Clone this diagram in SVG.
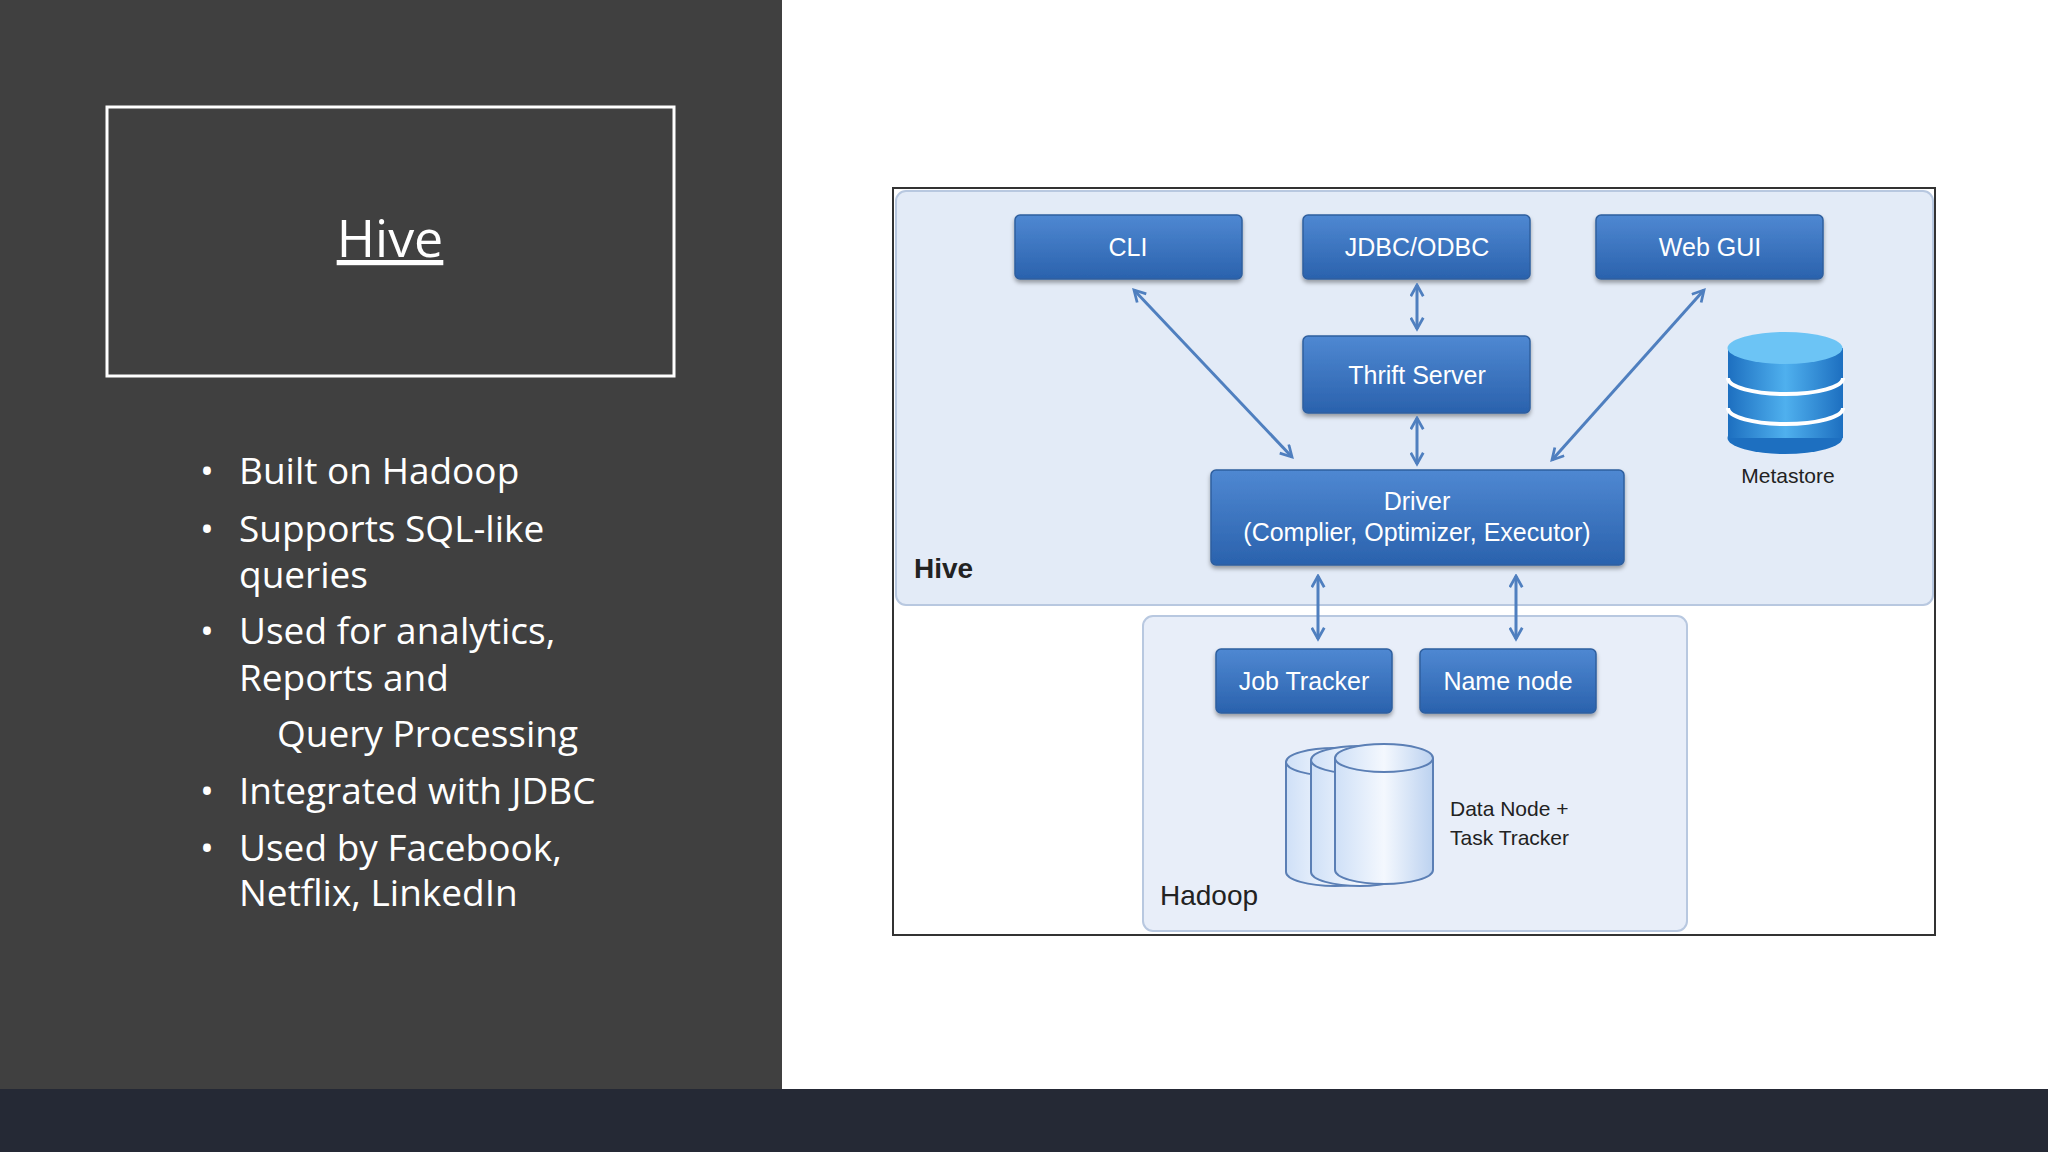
<svg xmlns="http://www.w3.org/2000/svg" width="2048" height="1152" viewBox="0 0 2048 1152">
<defs>
<style>
.box{fill:url(#bg);stroke:#2f5f9e;stroke-width:1.5}
.bt{fill:#fff;font-family:"Liberation Sans",sans-serif;font-size:25px;text-anchor:middle}
.bul{fill:#fff;font-family:"Open Sans",sans-serif;font-size:37px}
.arr{stroke:#4f7fbf;stroke-width:3;fill:none;marker-start:url(#ah);marker-end:url(#ah)}
.lbl{fill:#222;font-family:"Liberation Sans",sans-serif}
.cyl{fill:url(#cg);stroke:#5b7fb5;stroke-width:2}
</style>
<linearGradient id="bg" x1="0" y1="0" x2="0" y2="1"><stop offset="0" stop-color="#4f88d2"/><stop offset="1" stop-color="#2a62ad"/></linearGradient>
<linearGradient id="cg" x1="0" y1="0" x2="1" y2="0"><stop offset="0" stop-color="#cfe0f7"/><stop offset="0.5" stop-color="#f4f8fe"/><stop offset="1" stop-color="#bcd2f0"/></linearGradient>
<linearGradient id="mg" x1="0" y1="0" x2="1" y2="0"><stop offset="0" stop-color="#1d6fc0"/><stop offset="0.5" stop-color="#4fb0ee"/><stop offset="1" stop-color="#1d6fc0"/></linearGradient>
<marker id="ah" viewBox="0 0 12 12" refX="10" refY="6" markerWidth="5" markerHeight="5" orient="auto-start-reverse"><path d="M1,1 L10,6 L1,11" fill="none" stroke="#4f7fbf" stroke-width="2.2"/></marker>
<filter id="sh" x="-10%" y="-10%" width="120%" height="140%"><feDropShadow dx="0" dy="3" stdDeviation="2" flood-opacity="0.35"/></filter>
</defs>
<rect width="2048" height="1152" fill="#fff"/>
<rect width="782" height="1089" fill="#404040"/>
<rect y="1089" width="2048" height="63" fill="#252935"/>
<g id="title">
<rect x="107" y="107" width="567" height="269" fill="none" stroke="#fff" stroke-width="3"/>
<text x="390" y="257" fill="#fff" font-family="Open Sans,sans-serif" font-size="52" text-anchor="middle" text-decoration="underline">Hive</text>
</g>
<g id="bullets" class="bul">
<text x="200" y="484">•</text><text x="239" y="484">Built on Hadoop</text>
<text x="200" y="542">•</text><text x="239" y="542">Supports SQL-like</text>
<text x="239" y="588">queries</text>
<text x="200" y="644">•</text><text x="239" y="644">Used for analytics,</text>
<text x="239" y="691">Reports and</text>
<text x="277" y="747">Query Processing</text>
<text x="200" y="804">•</text><text x="239" y="804">Integrated with JDBC</text>
<text x="200" y="861">•</text><text x="239" y="861">Used by Facebook,</text>
<text x="239" y="906">Netflix, LinkedIn</text>
</g>
<g id="frame">
<rect x="893" y="188" width="1042" height="747" fill="#fff" stroke="#333" stroke-width="2"/>
<rect x="896" y="191" width="1037" height="414" rx="10" fill="#e3ebf7" stroke="#b8c8e0" stroke-width="2"/>
<rect x="1143" y="616" width="544" height="315" rx="10" fill="#e8eef9" stroke="#b8c8e0" stroke-width="2"/>
<text class="lbl" x="914" y="578" font-size="28" font-weight="bold">Hive</text>
<text class="lbl" x="1160" y="905" font-size="28">Hadoop</text>
</g>
<g id="cli"><rect class="box" filter="url(#sh)" x="1015" y="215" width="227" height="64" rx="5"/><text class="bt" x="1128" y="256">CLI</text></g>
<g id="jdbc"><rect class="box" filter="url(#sh)" x="1303" y="215" width="227" height="64" rx="5"/><text class="bt" x="1417" y="256">JDBC/ODBC</text></g>
<g id="webgui"><rect class="box" filter="url(#sh)" x="1596" y="215" width="227" height="64" rx="5"/><text class="bt" x="1710" y="256">Web GUI</text></g>
<g id="thrift"><rect class="box" filter="url(#sh)" x="1303" y="336" width="227" height="77" rx="5"/><text class="bt" x="1417" y="384">Thrift Server</text></g>
<g id="driver"><rect class="box" filter="url(#sh)" x="1211" y="470" width="413" height="95" rx="5"/><text class="bt" x="1417" y="510">Driver</text><text class="bt" x="1417" y="541">(Complier, Optimizer, Executor)</text></g>
<g id="jobtracker"><rect class="box" filter="url(#sh)" x="1216" y="649" width="176" height="64" rx="5"/><text class="bt" x="1304" y="690">Job Tracker</text></g>
<g id="namenode"><rect class="box" filter="url(#sh)" x="1420" y="649" width="176" height="64" rx="5"/><text class="bt" x="1508" y="690">Name node</text></g>
<g id="metastore">
<rect x="1728" y="348" width="115" height="90" fill="url(#mg)"/>
<ellipse cx="1785" cy="438" rx="57.5" ry="16" fill="#1d6fc0"/>
<rect x="1728" y="348" width="115" height="90" fill="url(#mg)"/>
<ellipse cx="1785" cy="348" rx="57.5" ry="16" fill="#6cc4f5"/>
<path d="M1728,378 a57.5,16 0 0 0 115,0 M1728,408 a57.5,16 0 0 0 115,0" stroke="#fff" stroke-width="4" fill="none"/>
<text class="lbl" x="1788" y="483" font-size="21" text-anchor="middle">Metastore</text>
</g>
<g id="datanode">
<path class="cyl" d="M1286,762 v110 a49,14 0 0 0 98,0 v-110"/><ellipse class="cyl" cx="1335" cy="762" rx="49" ry="14"/>
<path class="cyl" d="M1311,760 v112 a49,14 0 0 0 98,0 v-112"/><ellipse class="cyl" cx="1360" cy="760" rx="49" ry="14"/>
<path class="cyl" d="M1335,758 v112 a49,14 0 0 0 98,0 v-112"/><ellipse class="cyl" cx="1384" cy="758" rx="49" ry="14"/>
<text class="lbl" x="1450" y="816" font-size="21">Data Node +</text>
<text class="lbl" x="1450" y="845" font-size="21">Task Tracker</text>
</g>
<g id="connectors">
<line class="arr" x1="1134" y1="290" x2="1292" y2="457"/>
<line class="arr" x1="1417" y1="285" x2="1417" y2="329"/>
<line class="arr" x1="1417" y1="418" x2="1417" y2="464"/>
<line class="arr" x1="1704" y1="290" x2="1552" y2="460"/>
<line class="arr" x1="1318" y1="576" x2="1318" y2="639"/>
<line class="arr" x1="1516" y1="576" x2="1516" y2="639"/>
</g>
</svg>
